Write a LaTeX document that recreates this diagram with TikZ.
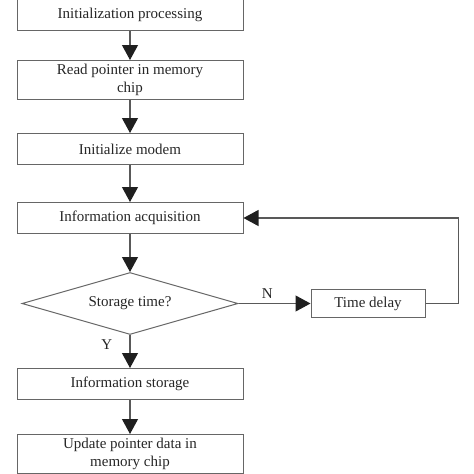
\documentclass[tikz,border=0pt]{standalone}
\usepackage{fontspec}
\setmainfont{Liberation Serif}
\usetikzlibrary{
    arrows.meta,
    positioning,
    shapes.geometric
}

\begin{document}
\begin{tikzpicture}[
        x=1pt, y=-1pt,
        every node/.style={font=\fontsize{15pt}{17.5pt}\selectfont, text=black!85},
        stepbox/.style={
            rectangle,
            draw=black!60,
            line width=1pt,
            minimum width=226pt,
            minimum height=31pt,
            inner sep=1pt,
            align=center
        },
        twoline/.style={
            stepbox,
            minimum height=39pt
        },
        decide/.style={
            diamond,
            draw=black!60,
            line width=1pt,
            aspect=3.5,
            inner sep=0pt,
            minimum width=216pt,
            minimum height=62pt
        },
        delaybox/.style={
            rectangle,
            draw=black!60,
            line width=1pt,
            minimum width=114pt,
            minimum height=28pt,
            inner sep=2pt
        },
        arrow/.style={
            -{Triangle[length=15pt,width=16pt,color=black!88]},
            line width=1.1pt,
            draw=black!65
        }
    ]

    \useasboundingbox (0,0) rectangle (474,474);

    \node[stepbox] (init) at (130,15) {Initialization processing};

    \node[twoline, below=29pt of init] (readptr)
        {Read pointer in memory\\chip};
    \node[stepbox, below=33pt of readptr] (modem)
        {Initialize modem};
    \node[stepbox, below=37pt of modem] (acquire)
        {Information acquisition};
    \node[decide, below=38pt of acquire] (check)
        {Storage time?};
    \node[delaybox, right=72pt of check] (delay)
        {Time delay};
    \node[stepbox, below=33pt of check] (store)
        {Information storage};
    \node[twoline, below=34pt of store] (update)
        {Update pointer data in\\memory chip};

    \draw[arrow] (init) -- (readptr);
    \draw[arrow] (readptr) -- (modem);
    \draw[arrow] (modem) -- (acquire);
    \draw[arrow] (acquire) -- (check);

    \draw[arrow] (check) -- node[above, pos=0.4, yshift=1pt] {N} (delay);
    \draw[arrow] (delay.east) -- ++(33,0) |- (acquire.east);

    \draw[arrow] (check) -- node[left, pos=0.3, xshift=-14pt] {Y} (store);
    \draw[arrow] (store) -- (update);

    \end{tikzpicture}
\end{document}
